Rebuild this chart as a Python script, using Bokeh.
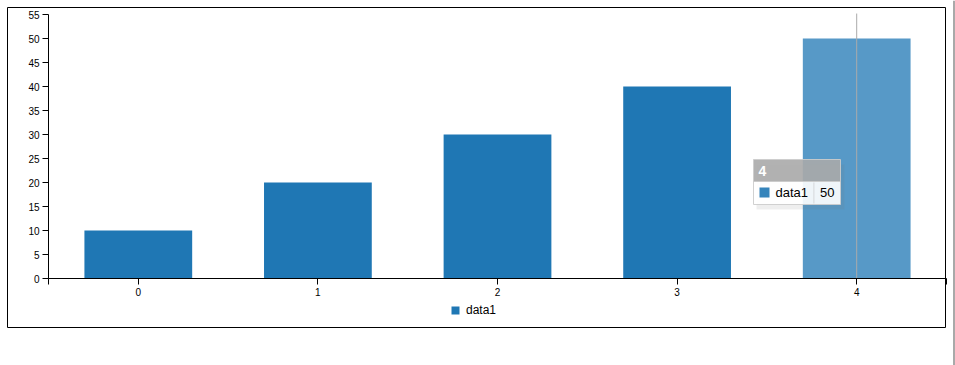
from bokeh.plotting import figure
from bokeh.models import (ColumnDataSource, FixedTicker, Range1d, BoxAnnotation, Label,
                          Legend, LegendItem, LinearAxis)
from bokeh.embed import file_html
from bokeh.resources import INLINE

# ---- data ----
categories = [0, 1, 2, 3, 4]
data1 = [10, 20, 30, 40, 50]
series_name = "data1"
y_ticks = [0, 5, 10, 15, 20, 25, 30, 35, 40, 45, 50, 55]
hovered_index = 4

BLUE = "#1f77b4"
FONT = "Liberation Sans"

alphas = [0.75 if i == hovered_index else 1.0 for i in range(len(categories))]
src = ColumnDataSource(dict(x=categories, top=data1, a=alphas))

W, H = 955, 365
PL, PR, PT, PB = 48, 946, 14, 278  # plot-area edges in page pixels
n = len(categories)
y_min, y_max = y_ticks[0], y_ticks[-1]
xs = (PR - PL) / n
ys = (PB - PT) / (y_max - y_min)
x_range = Range1d(-0.5 - PL / xs, n - 0.5 + (W - PR) / xs)
y_range = Range1d(y_min - (H - PB) / ys, y_max + PT / ys)

p = figure(width=W, height=H, output_backend="svg", toolbar_location=None,
           x_range=x_range, y_range=y_range, x_axis_location=None, y_axis_location=None,
           min_border=0, min_border_left=0, min_border_right=0, min_border_top=0,
           min_border_bottom=0)
p.outline_line_color = None
p.grid.visible = False
p.background_fill_color = "white"
p.border_fill_color = "white"

bars = p.vbar(x="x", top="top", bottom=y_min, width=0.6, source=src, fill_color=BLUE,
              fill_alpha="a", line_color=None)

xaxis = LinearAxis(fixed_location=y_min, bounds=(-0.5, n - 0.5),
                   ticker=FixedTicker(ticks=[-0.5] + categories + [n - 0.5]),
                   major_label_overrides={-0.5: "", n - 0.5: ""})
yaxis = LinearAxis(fixed_location=-0.5, bounds=(y_min, y_max),
                   ticker=FixedTicker(ticks=y_ticks))
for ax in (xaxis, yaxis):
    ax.axis_line_color = "black"
    ax.major_tick_line_color = "black"
    ax.major_tick_out = 6
    ax.major_tick_in = 0
    ax.minor_tick_line_color = None
    ax.major_label_text_font = FONT
    ax.major_label_text_font_size = "10px"
    ax.major_label_text_color = "black"
    ax.major_label_standoff = 3
p.add_layout(xaxis, "below")
p.add_layout(yaxis, "left")

# focus line on hovered category
p.segment(x0=categories[hovered_index], y0=y_min, x1=categories[hovered_index],
          y1=y_max + 0.2, line_color="#aaaaaa", line_width=1)

def sx(px):
    return px

def sy(py):
    return H - py

def box(l, r, t, b, **kw):
    p.add_layout(BoxAnnotation(left=sx(l), right=sx(r), top=sy(t), bottom=sy(b),
                               left_units="screen", right_units="screen",
                               top_units="screen", bottom_units="screen",
                               level="overlay", **kw))

# outer chart border
box(7, 945, 7, 327, fill_alpha=0, line_color="black", line_alpha=1.0, line_width=1)
# page edge line
box(953, 954, 0, 365, fill_color="#555555", fill_alpha=1, line_color=None)

# legend
legend = Legend(items=[LegendItem(label=series_name, renderers=[bars])],
                location=(450, sy(317)), orientation="horizontal",
                glyph_width=10, glyph_height=10, label_height=10, label_standoff=6,
                label_text_font=FONT, label_text_font_size="12px", label_text_color="#000000",
                padding=0, margin=0, spacing=0, border_line_color=None,
                background_fill_alpha=0)
p.add_layout(legend, "center")

# tooltip
TL, TR, TT, TM, TBm = 753, 840, 159, 181, 204
box(TL + 3, TR + 4, TT + 5, TBm + 5, fill_color="#777777", fill_alpha=0.12, line_color=None)
box(TL, TR, TM, TBm, fill_color="white", fill_alpha=0.9, line_color="#cccccc", line_alpha=0.9)
box(TL, TR, TT, TM, fill_color="#aaaaaa", fill_alpha=0.9, line_color="#cccccc", line_alpha=0.9)
box(759, 769, 187, 197, fill_color=BLUE, fill_alpha=0.9, line_color=None)
box(813, 813.8, 182, 203, fill_color="#bbbbbb", fill_alpha=0.6, line_color=None)

def label(px, py, text, size, color, bold=False, align="left"):
    p.add_layout(Label(x=sx(px), y=sy(py), x_units="screen", y_units="screen", text=text,
                       text_font=FONT, text_font_size=size, text_color=color,
                       text_font_style="bold" if bold else "normal", text_align=align,
                       text_baseline="middle", level="overlay"))

label(758, 170, str(categories[hovered_index]), "14px", "white", bold=True)
label(775, 192, series_name, "13px", "#000000")
label(834, 192, str(data1[hovered_index]), "13px", "#000000", align="right")

open("out.html", "w").write(file_html(p, INLINE))
